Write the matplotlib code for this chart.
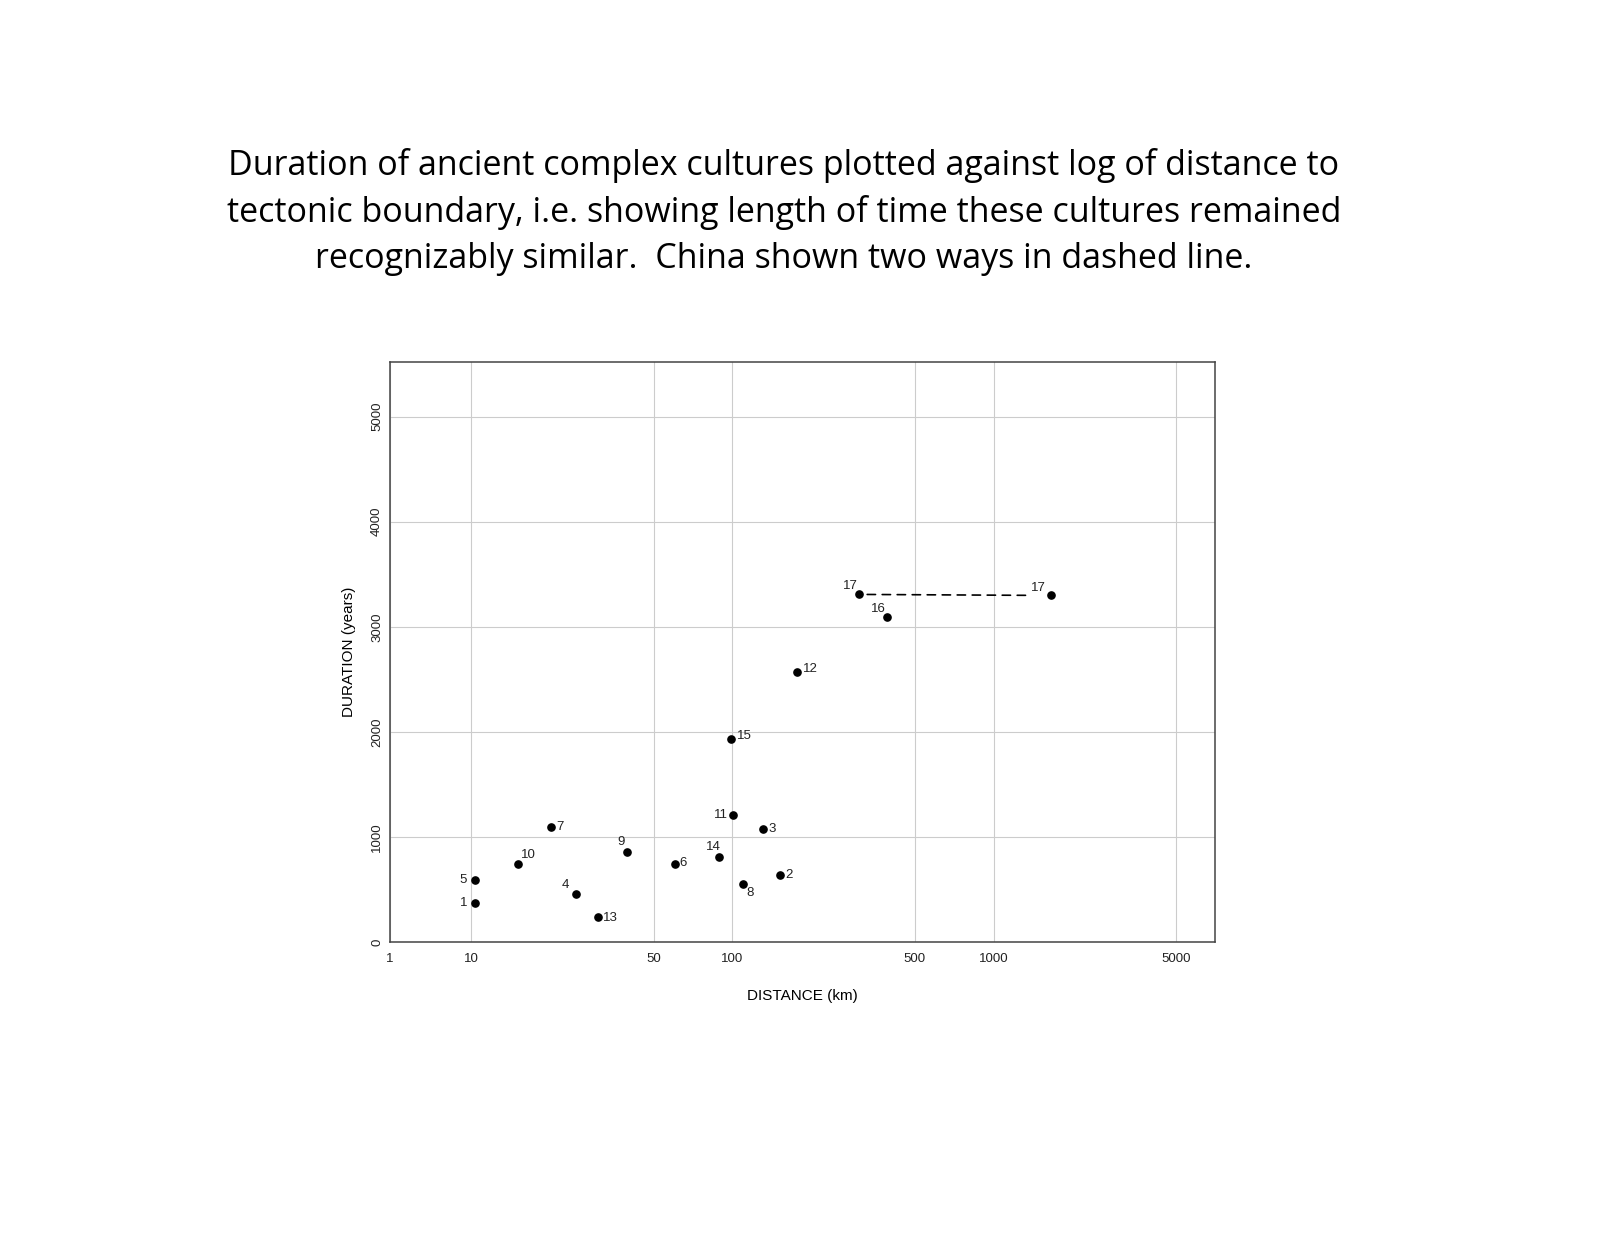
import numpy as np
import matplotlib
matplotlib.use('Agg')
import matplotlib.pyplot as plt

# culture number, distance to tectonic boundary (km), duration (years)
ids = ['1', '5', '10', '7', '4', '13', '9', '6', '14', '11', '15', '8', '3', '2', '12', '17', '16', '17']
dist = [10.4, 10.4, 15.2, 20.2, 25.2, 30.5, 39.7, 60.5, 89, 101, 99, 110, 131, 152, 177, 305, 391, 1663]
dur = [371, 589, 741, 1093, 456, 238, 856, 741, 808, 1207, 1930, 551, 1074, 637, 2567, 3308, 3089, 3298]

xticks = [10, 50, 100, 500, 1000, 5000]
xticklabels = ['10', '50', '100', '500', '1000', '5000']
yticks = [0, 1000, 2000, 3000, 4000, 5000]

# where each number sits around its dot (offset in points, ha, va)
lab_pos = {
    0: (-6, 0, 'right', 'center'),
    1: (-6, 0, 'right', 'center'),
    2: (2, 2, 'left', 'bottom'),
    3: (4, 0, 'left', 'center'),
    4: (-5, 2, 'right', 'bottom'),
    5: (4, -1, 'left', 'center'),
    6: (-2, 3, 'right', 'bottom'),
    7: (3, 1, 'left', 'center'),
    8: (1, 3, 'right', 'bottom'),
    9: (-4, 0, 'right', 'center'),
    10: (4, 2, 'left', 'center'),
    11: (2, -2, 'left', 'top'),
    12: (4, 0, 'left', 'center'),
    13: (4, 0, 'left', 'center'),
    14: (4, 2, 'left', 'center'),
    15: (-1, 2, 'right', 'bottom'),
    16: (-1, 2, 'right', 'bottom'),
    17: (-4, 1, 'right', 'bottom'),
}

fig = plt.figure(figsize=(16, 12.36), dpi=100)
fig.text(0.49, 0.8285,
         'Duration of ancient complex cultures plotted against log of distance to\n'
         'tectonic boundary, i.e. showing length of time these cultures remained\n'
         'recognizably similar.  China shown two ways in dashed line.',
         ha='center', va='center', fontsize=24.5, family='Open Sans', linespacing=1.45)

ax = fig.add_axes([0.24375, 0.2379, 0.5156, 0.4692])
xmin = 4.9
ax.set_xscale('log')
ax.set_xlim(xmin, 7030)
ax.set_ylim(0, 5520)

ax.plot(dist, dur, 'o', color='black', ms=5.2, zorder=3)

# China shown two ways
ax.annotate('', xy=(dist[17], dur[17]), xytext=(dist[15], dur[15]),
            arrowprops=dict(arrowstyle='-', color='black', lw=1.2,
                            linestyle=(0, (5, 4)), shrinkA=6, shrinkB=17))

for i, t in enumerate(ids):
    dx, dy, ha, va = lab_pos[i]
    ax.annotate(t, (dist[i], dur[i]), xytext=(dx, dy), textcoords='offset points',
                ha=ha, va=va, fontsize=9.5, family='Liberation Sans', color='#222222')

ax.set_xticks([xmin] + xticks)
ax.set_xticklabels(['1'] + xticklabels)
ax.xaxis.set_minor_locator(matplotlib.ticker.NullLocator())
ax.set_yticks(yticks)
ax.set_yticklabels([str(v) for v in yticks], rotation=90, va='center')
ax.tick_params(length=0, labelsize=9.5, colors='#222222')
ax.tick_params(axis='x', pad=8)
ax.tick_params(axis='y', pad=5)
for lab in ax.get_xticklabels() + ax.get_yticklabels():
    lab.set_family('Liberation Sans')

ax.grid(True, color='#cccccc', lw=0.8)
ax.set_axisbelow(True)
for s in ax.spines.values():
    s.set_color('#444444')
    s.set_linewidth(1.1)

ax.set_xlabel('DISTANCE (km)', fontsize=11, family='Liberation Sans', labelpad=17)
ax.set_ylabel('DURATION (years)', fontsize=11, family='Liberation Sans', labelpad=11)

fig.savefig('out.png', dpi=100)
